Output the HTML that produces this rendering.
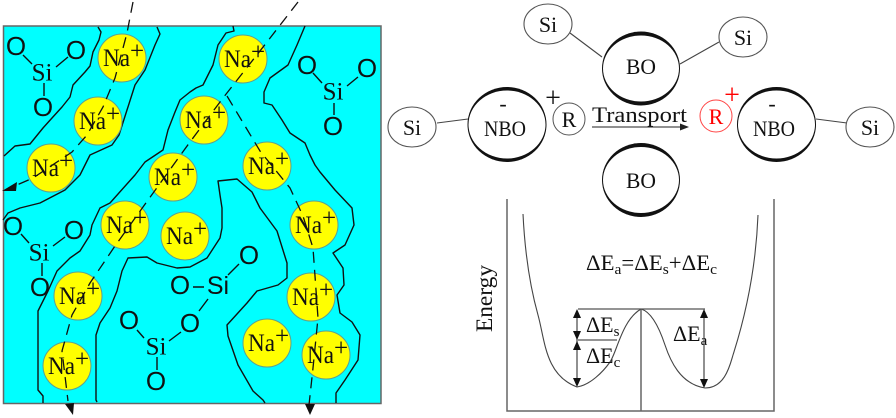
<!DOCTYPE html>
<html><head><meta charset="utf-8"><style>
html,body{margin:0;padding:0;background:#fff}
svg{display:block}
text{font-family:"Liberation Serif",serif;fill:#111}
.na{font-size:25px}.pl{font-size:25px;text-anchor:middle}
.o{font-family:"Liberation Sans",sans-serif;font-size:26px;text-anchor:middle;dominant-baseline:central}
.si{font-size:25px;text-anchor:middle;dominant-baseline:central}
.b{stroke:#111;stroke-width:1.4;fill:none}
.bd{fill:none;stroke:#111;stroke-width:1.4;stroke-linejoin:round}
.ds{fill:none;stroke:#111;stroke-width:1.3;stroke-dasharray:11 7}
circle.y{fill:#ff0;stroke:#5f9f90;stroke-width:1}
.t{font-size:22px;text-anchor:middle}
.e{fill:#fff;stroke:#555;stroke-width:1.1}
.g{stroke:#666;stroke-width:1.5;fill:none}
.sm{font-size:15px}
.eq{font-size:22px}
</style></head><body>
<svg width="896" height="418" viewBox="0 0 896 418" xmlns="http://www.w3.org/2000/svg">
<rect x="3.5" y="26" width="377.5" height="377.5" fill="#0ff" stroke="#666" stroke-width="1.5"/>

<polyline class="bd" points="98,27 101,32 99,40 93,52 90,66 85,72 73,85 70,97 62,107 52,118 43,128 30,144 15,146 4,156"/>
<polyline class="bd" points="157,27 160,34 155,45 145,70 135,85 127,110 119,135 112,145 90,155 80,175 65,190 40,203 20,208 8,213 3,220"/>
<polyline class="bd" points="233,26 234,31 226,33 218,45 213,65 203,85 196,88 190,92 180,100 175,112 168,130 163,150 145,162 135,175 110,203 100,208 92,225 90,235 80,251 70,258 57,271 48,291 38,311 38,390 43,396 43,403"/>
<polyline class="bd" points="305,26 297,45 288,65 270,78 264,92 264,103 272,105 282,120 290,133 305,143 310,155 315,165 320,172 335,190 352,208 354,225 345,245 333,253 343,268 344,285 337,295 340,313 352,322 360,335 358,360 345,380 336,393 336,403"/>
<polyline class="bd" points="97,402 96,400 96,335 100,323 110,308 117,291 122,271 128,258 147,257 157,263 177,268 190,267 207,258 220,238 222,228 222,208 220,195 218,181 237,179 252,192 260,208 277,231 287,263 287,278 278,285 257,291 247,303 227,325 228,336 238,365 253,391 263,400 265,403"/>

<g>
<circle class="y" cx="122" cy="58" r="24"/><circle class="y" cx="98" cy="121" r="24"/><circle class="y" cx="51" cy="168" r="24"/>
<circle class="y" cx="173" cy="177" r="24"/><circle class="y" cx="243" cy="59" r="24"/><circle class="y" cx="204" cy="120" r="24"/>
<circle class="y" cx="267" cy="166" r="24"/><circle class="y" cx="125" cy="225" r="24"/><circle class="y" cx="185" cy="236" r="24"/>
<circle class="y" cx="78" cy="296" r="24"/><circle class="y" cx="67" cy="366" r="24"/><circle class="y" cx="314" cy="225" r="24"/>
<circle class="y" cx="311" cy="297" r="24"/><circle class="y" cx="267" cy="343" r="24"/><circle class="y" cx="326" cy="355" r="24"/>
</g>
<g transform="translate(122,58)"><text class="na" x="-19" y="8" textLength="27" lengthAdjust="spacingAndGlyphs">Na</text><text class="pl" x="15" y="1">+</text></g>
<g transform="translate(98,121)"><text class="na" x="-19" y="8" textLength="27" lengthAdjust="spacingAndGlyphs">Na</text><text class="pl" x="15" y="1">+</text></g>
<g transform="translate(51,168)"><text class="na" x="-19" y="8" textLength="27" lengthAdjust="spacingAndGlyphs">Na</text><text class="pl" x="15" y="1">+</text></g>
<g transform="translate(173,177)"><text class="na" x="-19" y="8" textLength="27" lengthAdjust="spacingAndGlyphs">Na</text><text class="pl" x="15" y="1">+</text></g>
<g transform="translate(243,59)"><text class="na" x="-19" y="8" textLength="27" lengthAdjust="spacingAndGlyphs">Na</text><text class="pl" x="15" y="1">+</text></g>
<g transform="translate(204,120)"><text class="na" x="-19" y="8" textLength="27" lengthAdjust="spacingAndGlyphs">Na</text><text class="pl" x="15" y="1">+</text></g>
<g transform="translate(267,166)"><text class="na" x="-19" y="8" textLength="27" lengthAdjust="spacingAndGlyphs">Na</text><text class="pl" x="15" y="1">+</text></g>
<g transform="translate(125,225)"><text class="na" x="-19" y="8" textLength="27" lengthAdjust="spacingAndGlyphs">Na</text><text class="pl" x="15" y="1">+</text></g>
<g transform="translate(185,236)"><text class="na" x="-19" y="8" textLength="27" lengthAdjust="spacingAndGlyphs">Na</text><text class="pl" x="15" y="1">+</text></g>
<g transform="translate(78,296)"><text class="na" x="-19" y="8" textLength="27" lengthAdjust="spacingAndGlyphs">Na</text><text class="pl" x="15" y="1">+</text></g>
<g transform="translate(67,366)"><text class="na" x="-19" y="8" textLength="27" lengthAdjust="spacingAndGlyphs">Na</text><text class="pl" x="15" y="1">+</text></g>
<g transform="translate(314,225)"><text class="na" x="-19" y="8" textLength="27" lengthAdjust="spacingAndGlyphs">Na</text><text class="pl" x="15" y="1">+</text></g>
<g transform="translate(311,297)"><text class="na" x="-19" y="8" textLength="27" lengthAdjust="spacingAndGlyphs">Na</text><text class="pl" x="15" y="1">+</text></g>
<g transform="translate(267,343)"><text class="na" x="-19" y="8" textLength="27" lengthAdjust="spacingAndGlyphs">Na</text><text class="pl" x="15" y="1">+</text></g>
<g transform="translate(326,355)"><text class="na" x="-19" y="8" textLength="27" lengthAdjust="spacingAndGlyphs">Na</text><text class="pl" x="15" y="1">+</text></g>

<polyline class="ds" points="133,2 127,33 115,78 103,107 87,135 72,152 33,178 10,188"/>
<polygon points="2,191 17,182 16,191" fill="#111"/>
<polyline class="ds" points="298,2 267,42 223,98 190,142 182,153 143,207 115,246 90,283 72,315 62,351 68,401"/>
<polygon points="73,415 65,404 74,403" fill="#111"/>
<polyline class="ds" points="227,96 260,151 290,188 303,216 313,248 318,318 313,368 309,405"/>
<polygon points="310,415 305,404 315,404" fill="#111"/>

<text class="o" x="16" y="46">O</text><text class="o" x="76" y="50">O</text><text class="si" x="42" y="73">Si</text><text class="o" x="43" y="107">O</text>
<path class="b" d="M23,55L32,64M68,57L56,67M44,83L44,96"/>
<text class="o" x="307" y="65">O</text><text class="o" x="367" y="68">O</text><text class="si" x="333" y="92">Si</text><text class="o" x="333" y="126">O</text>
<path class="b" d="M313,73L322,83M358,77L347,86M334,103L334,115"/>
<text class="o" x="13" y="226">O</text><text class="o" x="74" y="230">O</text><text class="si" x="39" y="253">Si</text><text class="o" x="40" y="287">O</text>
<path class="b" d="M21,234L29,243M65,237L53,246M42,263L42,276"/>
<text class="o" x="129" y="320">O</text><text class="o" x="190" y="323">O</text><text class="si" x="156" y="347">Si</text><text class="o" x="156" y="381">O</text>
<path class="b" d="M137,330L144,338M181,332L169,341M157,357L157,370"/>
<text class="o" x="180" y="285">O</text><text class="o" x="218" y="286" style="font-size:25px">Si</text><text class="o" x="249" y="255">O</text>
<path class="b" d="M193,287L204,287M239,264L228,275M208,299L199,311"/>

<path d="M570,33L602,57M719,42L680,64M437,123L468,119M816,119L847,123" stroke="#444" stroke-width="1.1" fill="none"/>
<ellipse class="e" cx="548" cy="24" rx="24" ry="20"/><text class="t" x="548" y="32">Si</text>
<ellipse class="e" cx="743" cy="37" rx="24" ry="20"/><text class="t" x="743" y="45">Si</text>
<ellipse class="e" cx="412" cy="127" rx="24" ry="20"/><text class="t" x="412" y="135">Si</text>
<ellipse class="e" cx="870" cy="127" rx="24" ry="20"/><text class="t" x="870" y="135">Si</text>

<ellipse cx="641" cy="68.5" rx="39" ry="37" fill="#111"/><ellipse cx="641" cy="68.5" rx="38" ry="33" fill="#fff"/>
<text class="t" x="641" y="74" textLength="30" lengthAdjust="spacingAndGlyphs">BO</text>
<ellipse cx="641" cy="180" rx="39" ry="37" fill="#111"/><ellipse cx="641" cy="180" rx="38" ry="33" fill="#fff"/>
<text class="t" x="641" y="188" textLength="30" lengthAdjust="spacingAndGlyphs">BO</text>
<ellipse cx="507" cy="124.5" rx="39.5" ry="37.5" fill="#111"/><ellipse cx="507" cy="124.5" rx="38.5" ry="34" fill="#fff"/>
<text class="t" x="503" y="111">-</text><text class="t" x="505" y="136" textLength="42" lengthAdjust="spacingAndGlyphs">NBO</text>
<ellipse cx="776.5" cy="124.5" rx="39.5" ry="37.5" fill="#111"/><ellipse cx="776.5" cy="124.5" rx="38.5" ry="34" fill="#fff"/>
<text class="t" x="772" y="111">-</text><text class="t" x="774" y="136" textLength="42" lengthAdjust="spacingAndGlyphs">NBO</text>

<text x="553" y="107" text-anchor="middle" style="font-size:28px">+</text>
<circle cx="569" cy="119" r="16" fill="#fff" stroke="#555" stroke-width="1"/><text class="t" x="569" y="127">R</text>
<text x="592" y="122" textLength="95" lengthAdjust="spacingAndGlyphs" style="font-size:22px">Transport</text>
<line x1="592" y1="127" x2="684" y2="127" stroke="#222" stroke-width="1"/><polygon points="689,127 680,123.500 680,130.500" fill="#222"/>
<circle cx="716" cy="116" r="16" fill="#fff" stroke="#f44" stroke-width="1"/><text class="t" x="716" y="124" style="fill:#f00">R</text>
<text x="732" y="104" text-anchor="middle" style="font-size:28px;fill:#f00">+</text>

<path class="g" d="M507,199V411H774V199M641,309V411"/>
<path d="M523,214 C525,255 531,290 538,315 S545,375 577,387 C590,385 603,372 610,362 S622,320 641,309 C652,312 660,330 665,345 S680,384 705,388 C725,388 730,365 733,355 S755,290 758,215" fill="none" stroke="#444" stroke-width="1.1"/>
<path d="M578,309H705M578,340H617M577,314V382M704,314V383" stroke="#555" stroke-width="1.3" fill="none"/>
<g fill="#111">
<polygon points="577,309 573,318 581,318"/><polygon points="577,340 573,331 581,331"/>
<polygon points="577,341 573,350 581,350"/><polygon points="577,387 573,378 581,378"/>
<polygon points="704,309 700,318 708,318"/><polygon points="704,388 700,379 708,379"/>
</g>
<text x="586" y="270" class="eq" textLength="131" lengthAdjust="spacingAndGlyphs">ΔE<tspan class="sm" dy="4">a</tspan><tspan dy="-4">=ΔE</tspan><tspan class="sm" dy="4">s</tspan><tspan dy="-4">+ΔE</tspan><tspan class="sm" dy="4">c</tspan></text>
<text x="586" y="332" class="eq">ΔE<tspan class="sm" dy="4">s</tspan></text>
<text x="586" y="363" class="eq">ΔE<tspan class="sm" dy="4">c</tspan></text>
<text x="673" y="341" class="eq">ΔE<tspan class="sm" dy="4">a</tspan></text>
<text transform="translate(492,332) rotate(-90)" style="font-size:23px" textLength="67" lengthAdjust="spacingAndGlyphs">Energy</text>
</svg>
</body></html>
